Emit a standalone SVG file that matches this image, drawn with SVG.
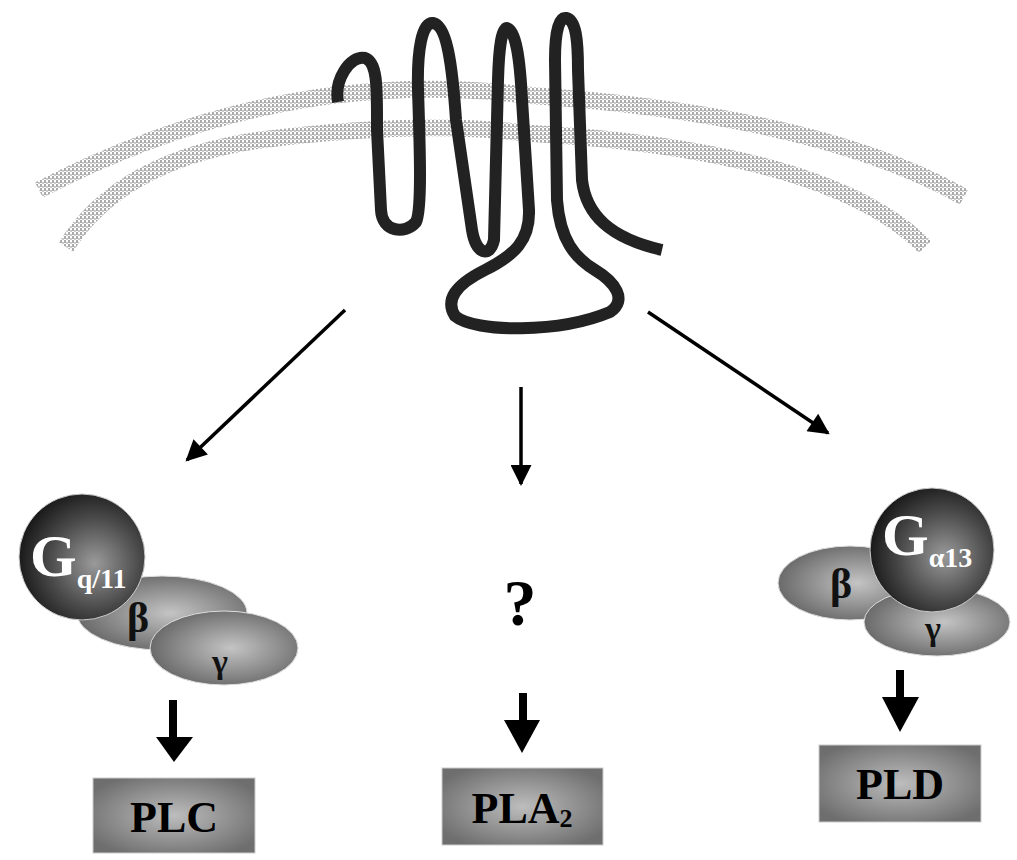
<svg xmlns="http://www.w3.org/2000/svg" width="1017" height="860" viewBox="0 0 1017 860">
<defs>
<pattern id="dots" width="4" height="4" patternUnits="userSpaceOnUse"><rect width="4" height="4" fill="#fff"/><rect x="0" y="0" width="2" height="3" fill="#aaa"/><rect x="2" y="2" width="2" height="2" fill="#c8c8c8"/></pattern>
<radialGradient id="sph" cx="0.6" cy="0.55" r="0.6"><stop offset="0" stop-color="#9a9a9a"/><stop offset="0.6" stop-color="#4a4a4a"/><stop offset="1" stop-color="#1a1a1a"/></radialGradient>
<radialGradient id="ell" cx="0.55" cy="0.5" r="0.55"><stop offset="0" stop-color="#c4c4c4"/><stop offset="1" stop-color="#6a6a6a"/></radialGradient>
<radialGradient id="box" cx="0.5" cy="0.5" r="0.6"><stop offset="0" stop-color="#bdbdbd"/><stop offset="1" stop-color="#6e6e6e"/></radialGradient>
<marker id="ah" viewBox="0 0 10 10" refX="9" refY="5" markerWidth="8" markerHeight="6" orient="auto" markerUnits="strokeWidth"><path d="M0,0 L10,5 L0,10 Z" fill="#000"/></marker>
</defs>
<style>
.mem{fill:none;stroke:url(#dots);stroke-width:17}
.sph{fill:url(#sph);stroke:#ccc;stroke-width:1}
.ell{fill:url(#ell);stroke:#ddd;stroke-width:1}
.box{fill:url(#box);stroke:#ccc;stroke-width:1}
.t{font-family:"Liberation Serif",serif;font-weight:bold}
.conn{stroke:#000;stroke-width:3.5;fill:none}
</style>
<g id="membrane">
<path class="mem" d="M39,190 Q280,65 525,95 Q820,115 964,197"/>
<path class="mem" d="M66,247 Q120,160 260,140 Q420,120 525,133 Q830,150 925,247"/>
</g>
<g id="receptor">
<path fill="none" stroke="#222" stroke-width="12" stroke-linecap="butt" stroke-linejoin="round" d="M338,102 C334,80 350,55 365,58 C378,62 377,90 377,130 L381,210 C382,232 405,235 416,222 C422,210 420,150 418,90 C417,50 422,22 433,23 C446,25 452,60 456,120 L472,230 C476,255 490,258 494,240 L498,80 C499,45 502,28 507,28 C516,30 520,60 522,100 L529,210 C530,240 515,255 485,270 C455,285 445,300 455,316 C475,333 560,333 610,312 C628,300 615,282 595,270 C575,258 560,240 557,200 L555,60 C555,28 560,17 566,18 C576,20 578,40 578,70 L582,180 C586,215 610,238 662,250"/>
</g>
<g id="connectors">
<line class="conn" x1="345" y1="310" x2="187" y2="460" marker-end="url(#ah)"/>
<line class="conn" x1="648" y1="312" x2="828" y2="433" marker-end="url(#ah)"/>
<line class="conn" x1="521" y1="387" x2="521" y2="484" marker-end="url(#ah)"/>
<g fill="#000">
<rect x="169" y="700" width="8" height="38"/><path d="M156,737 L193,737 L174,762 Z"/>
<rect x="519" y="693" width="8" height="28"/><path d="M504,720 L540,720 L522,753 Z"/>
<rect x="896" y="670" width="8" height="28"/><path d="M882,697 L919,697 L900,732 Z"/>
</g>
</g>
<g id="gq11">
<ellipse class="ell" cx="162" cy="613" rx="85" ry="37"/>
<ellipse class="ell" cx="224" cy="648" rx="74" ry="37"/>
<circle class="sph" cx="82" cy="557" r="63"/>
<text class="t" x="30" y="576" font-size="60" fill="#fff">G<tspan font-size="28" dy="12">q/11</tspan></text>
<text class="t" x="127" y="632" font-size="42" fill="#111">β</text>
<text class="t" x="212" y="673" font-size="34" fill="#111">γ</text>
</g>
<g id="plc">
<rect class="box" x="93" y="778" width="162" height="75"/>
<text class="t" x="174" y="832" font-size="44" text-anchor="middle" fill="#000">PLC</text>
</g>
<g id="unknown">
<text class="t" x="520" y="625" font-size="66" text-anchor="middle" fill="#000">?</text>
</g>
<g id="pla2">
<rect class="box" x="442" y="768" width="161" height="77"/>
<text class="t" x="522" y="823" font-size="44" text-anchor="middle" fill="#000">PLA<tspan font-size="26" dy="4">2</tspan></text>
</g>
<g id="ga13">
<ellipse class="ell" cx="850" cy="583" rx="72" ry="37"/>
<ellipse class="ell" cx="937" cy="622" rx="73" ry="34"/>
<circle class="sph" cx="932" cy="550" r="62"/>
<text class="t" x="882" y="555" font-size="60" fill="#fff">G<tspan font-size="28" dy="12">α13</tspan></text>
<text class="t" x="830" y="598" font-size="42" fill="#111">β</text>
<text class="t" x="925" y="640" font-size="34" fill="#111">γ</text>
</g>
<g id="pld">
<rect class="box" x="819" y="745" width="162" height="77"/>
<text class="t" x="900" y="799" font-size="44" text-anchor="middle" fill="#000">PLD</text>
</g>
</svg>
